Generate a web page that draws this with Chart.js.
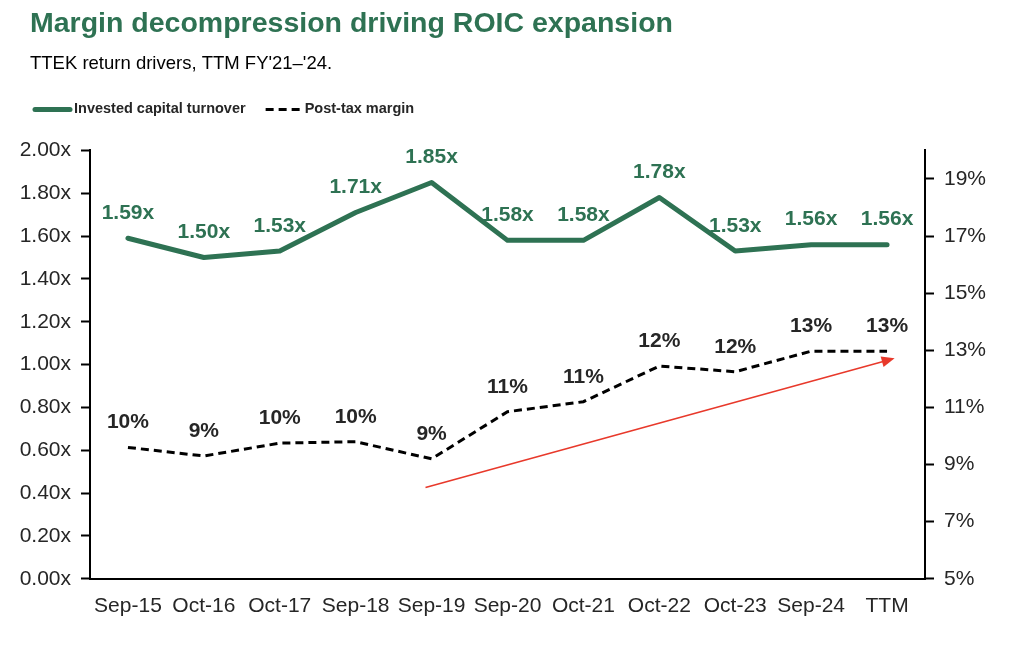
<!DOCTYPE html>
<html>
<head>
<meta charset="utf-8">
<script src="https://cdn.jsdelivr.net/npm/chart.js@4.4.1/dist/chart.umd.min.js"></script>
<style>
  html, body { margin: 0; padding: 0; background: #fff; }
  #wrap { width: 1012px; height: 658px; }
</style>
</head>
<body>
<div id="wrap"><canvas id="roicChart"></canvas></div>
<script>
// data
const periods = ['Sep-15', 'Oct-16', 'Oct-17', 'Sep-18', 'Sep-19', 'Sep-20', 'Oct-21', 'Oct-22', 'Oct-23', 'Sep-24', 'TTM'];
const turnover = [1.59, 1.50, 1.53, 1.71, 1.85, 1.58, 1.58, 1.78, 1.53, 1.56, 1.56];
const postTaxMargin = [9.6, 9.3, 9.75, 9.8, 9.2, 10.85, 11.2, 12.45, 12.25, 12.97, 12.97];
const marginTicks = [5, 7, 9, 11, 13, 15, 17, 19];
// trend arrow, in data units (category index, margin %)
const arrowFrom = [3.92, 8.2];
const arrowTo = [10.1, 12.72];

const GREEN = '#2e7253';
const TEXT = '#262626';

// custom legend drawn between subtitle and plot
const legendLines = {
    id: 'legendLines',
    afterDraw(chart) {
        const ctx = chart.ctx;
        const y = chart.chartArea.top - 41;
        let x = 35;
        ctx.save();
        ctx.font = 'bold 14.5px "Liberation Sans", Arial, sans-serif';
        ctx.textBaseline = 'middle';
        chart.data.datasets.forEach(ds => {
            ctx.beginPath();
            ctx.strokeStyle = ds.borderColor;
            ctx.lineWidth = ds.borderWidth;
            ctx.lineCap = ds.borderDash ? 'butt' : 'round';
            ctx.setLineDash(ds.borderDash || []);
            ctx.moveTo(x, y);
            ctx.lineTo(x + 35, y);
            ctx.stroke();
            ctx.setLineDash([]);
            ctx.fillStyle = TEXT;
            ctx.fillText(ds.label, x + 39, y);
            x += 39 + ctx.measureText(ds.label).width + 20;
        });
        ctx.restore();
    }
};

// value labels above each point
const pointLabels = {
    id: 'pointLabels',
    afterDatasetsDraw(chart) {
        const ctx = chart.ctx;
        ctx.save();
        ctx.font = 'bold 21px "Liberation Sans", Arial, sans-serif';
        ctx.textAlign = 'center';
        ctx.textBaseline = 'middle';
        chart.data.datasets.forEach((ds, i) => {
            const meta = chart.getDatasetMeta(i);
            ctx.fillStyle = ds.labelColor;
            meta.data.forEach((pt, j) => {
                ctx.fillText(ds.labelFormat(ds.data[j]), pt.x, pt.y - ds.labelOffset);
            });
        });
        ctx.restore();
    }
};

// red trend arrow
const trendArrow = {
    id: 'trendArrow',
    afterDatasetsDraw(chart) {
        const xs = chart.scales.x, ys = chart.scales.y1;
        const x1 = xs.getPixelForValue(arrowFrom[0]), y1 = ys.getPixelForValue(arrowFrom[1]);
        const x2 = xs.getPixelForValue(arrowTo[0]), y2 = ys.getPixelForValue(arrowTo[1]);
        const ang = Math.atan2(y2 - y1, x2 - x1);
        const ctx = chart.ctx;
        ctx.save();
        ctx.strokeStyle = '#e8392b';
        ctx.fillStyle = '#e8392b';
        ctx.lineWidth = 1.6;
        ctx.beginPath();
        ctx.moveTo(x1, y1);
        ctx.lineTo(x2 - 10 * Math.cos(ang), y2 - 10 * Math.sin(ang));
        ctx.stroke();
        ctx.beginPath();
        ctx.moveTo(x2, y2);
        ctx.lineTo(x2 - 13 * Math.cos(ang) + 5.5 * Math.sin(ang), y2 - 13 * Math.sin(ang) - 5.5 * Math.cos(ang));
        ctx.lineTo(x2 - 13 * Math.cos(ang) - 5.5 * Math.sin(ang), y2 - 13 * Math.sin(ang) + 5.5 * Math.cos(ang));
        ctx.closePath();
        ctx.fill();
        ctx.restore();
    }
};

// let the tick labels run past the axis boxes instead of being clipped
const widenAxes = {
    id: 'widenAxes',
    afterLayout(chart) {
        chart.scales.y.left = 0;
        chart.scales.y1.right = chart.width;
    }
};

Chart.defaults.font.family = '"Liberation Sans", Arial, sans-serif';
Chart.defaults.color = TEXT;

const ctx = document.getElementById('roicChart').getContext('2d');
const roicChart = new Chart(ctx, {
    type: 'line',
    data: {
        labels: periods,
        datasets: [{
            label: 'Invested capital turnover',
            data: turnover,
            yAxisID: 'y',
            borderColor: GREEN,
            borderWidth: 5,
            borderCapStyle: 'round',
            borderJoinStyle: 'round',
            pointRadius: 0,
            tension: 0,
            labelColor: GREEN,
            labelOffset: 25,
            labelFormat: v => v.toFixed(2) + 'x'
        }, {
            label: 'Post-tax margin',
            data: postTaxMargin,
            yAxisID: 'y1',
            borderColor: '#000',
            borderWidth: 3,
            borderDash: [8, 5],
            pointRadius: 0,
            tension: 0,
            labelColor: TEXT,
            labelOffset: 25,
            labelFormat: v => Math.round(v) + '%'
        }]
    },
    options: {
        responsive: true,
        maintainAspectRatio: false,
        animation: false,
        layout: { padding: { left: 30, right: 24, top: 0, bottom: 24 } },
        plugins: {
            legend: { display: false },
            tooltip: { enabled: false },
            title: {
                display: true,
                text: 'Margin decompression driving ROIC expansion',
                align: 'start',
                color: GREEN,
                font: { size: 28.5, weight: 'bold' },
                padding: { top: 7, bottom: 2 }
            },
            subtitle: {
                display: true,
                text: "TTEK return drivers, TTM FY'21\u2013'24.",
                align: 'start',
                color: '#000',
                font: { size: 18.5 },
                padding: { top: 10, bottom: 75 }
            }
        },
        scales: {
            x: {
                offset: true,
                grid: { display: false, drawTicks: false },
                border: { display: true, color: '#000', width: 2 },
                ticks: { autoSkip: false, maxRotation: 0, padding: 15, font: { size: 21 }, color: TEXT }
            },
            y: {
                position: 'left',
                min: 0,
                max: 2,
                grid: { drawOnChartArea: false, drawTicks: true, tickLength: 9, tickColor: '#000', tickWidth: 2 },
                border: { display: true, color: '#000', width: 2 },
                ticks: { stepSize: 0.2, padding: 10, font: { size: 21 }, color: TEXT, callback: v => v.toFixed(2) + 'x' },
                afterFit: s => { s.width = 60; }
            },
            y1: {
                position: 'right',
                min: 5,
                max: 20,
                grid: { drawOnChartArea: false, drawTicks: true, tickLength: 9, tickColor: '#000', tickWidth: 2 },
                border: { display: true, color: '#000', width: 2 },
                ticks: { padding: 10, font: { size: 21 }, color: TEXT, callback: v => v + '%' },
                afterBuildTicks: s => { s.ticks = marginTicks.map(v => ({ value: v })); },
                afterFit: s => { s.width = 63; }
            }
        }
    },
    plugins: [legendLines, pointLabels, trendArrow, widenAxes]
});
</script>
</body>
</html>
